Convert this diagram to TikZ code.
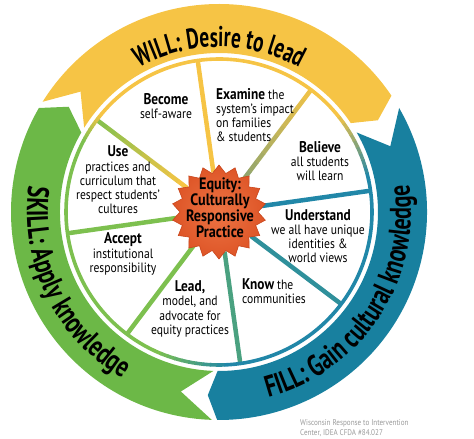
\documentclass[tikz,border=0pt]{standalone}
\usepackage{fontspec}
\setmainfont{PT Sans}[FakeStretch=0.86]
\newfontfamily\arcfont{PT Sans}[FakeStretch=0.68]
\newfontfamily\sidefont{PT Sans}[FakeStretch=0.73]
\usetikzlibrary{decorations.text}

\definecolor{willyellow}{HTML}{F6C445}
\definecolor{fillblue}{HTML}{18809F}
\definecolor{skillgreen}{HTML}{6CB847}
\definecolor{rimgreen}{HTML}{7DC04F}
\definecolor{rimblue}{HTML}{2187A8}
\definecolor{starorange}{HTML}{DE5527}
\definecolor{starlight}{HTML}{EC7444}
\definecolor{staredge}{HTML}{C9461C}
\definecolor{creditgray}{HTML}{9A9A9A}

\tikzset{
  spoke/.style={line width=4.5pt},
  rim/.style={line width=3.6pt},
  wedgetext/.style={align=center, inner sep=0pt, font=\fontsize{13.5}{14.2}\selectfont},
  startext/.style={align=center, inner sep=0pt, font=\bfseries\fontsize{16.5}{15}\selectfont},
}

\newcommand\kw[1]{{\bfseries\fontsize{15.5}{14.2}\selectfont #1}}
\newcommand\gradspoke[3]{%
  \foreach \k in {0,...,9}{%
    \pgfmathtruncatemacro\p{100-10*\k}%
    \draw[spoke, draw=#2!\p!#3] ({#1}:{40+11.2*\k}) -- ({#1}:{40+11.2*(\k+1)+0.4});
  }}
\newcommand\gradrim[4]{%
  \foreach \k in {0,...,9}{%
    \pgfmathsetmacro\a{#1+(#2-#1)*\k/10}%
    \pgfmathsetmacro\b{#1+(#2-#1)*(\k+1)/10+0.3}%
    \pgfmathtruncatemacro\p{100-10*\k}%
    \draw[rim, draw=#3!\p!#4] (\a:153) arc[start angle=\a, end angle=\b, radius=153];
  }}

\begin{document}
\begin{tikzpicture}[x=1pt, y=1pt]

	\useasboundingbox (-219,-227) rectangle (255,212);

	\fill[willyellow] (148:208) arc[start angle=148, end angle=34, radius=208] -- (30:183.5)
		-- (34:159) arc[start angle=34, end angle=148, radius=159] -- (139:183.5) -- cycle;
	\fill[fillblue] (30:208) arc[start angle=30, end angle=-90.5, radius=208] -- (-93.5:183.5)
		-- (-90.5:159) arc[start angle=-90.5, end angle=30, radius=159] -- (21:183.5) -- cycle;
	\fill[skillgreen] (-92:208) arc[start angle=-92, end angle=-210, radius=208] -- (-215:183.5)
		-- (-210:159) arc[start angle=-210, end angle=-92, radius=159] -- (-102:183.5) -- cycle;

	\path[decorate, decoration={text along path, text align=center,
		text={|\arcfont\bfseries\fontsize{28.5}{30}\selectfont|WILL: Desire to lead}}]
		(160:165) arc[start angle=160, end angle=20, radius=165];
	\path[decorate, decoration={text along path, text align=center,
		text={|\sidefont\bfseries\fontsize{30}{32}\selectfont|SKILL: Apply knowledge}}]
		(136:192) arc[start angle=136, end angle=276, radius=192];
	\path[decorate, decoration={text along path, text align=center,
		text={|\sidefont\bfseries\fontsize{30}{32}\selectfont|FILL: Gain cultural knowledge}}]
		(256.5:192) arc[start angle=256.5, end angle=396.5, radius=192];

	\draw[spoke, willyellow] (98:40) -- (98:152);
	\gradspoke{53}{fillblue!45!willyellow}{willyellow}
	\gradspoke{143}{willyellow}{rimgreen}
	\draw[spoke, rimgreen] (188:40) -- (188:152);
	\draw[spoke, rimgreen] (233:40) -- (233:152);
	\draw[spoke, rimgreen!45!rimblue] (278:40) -- (278:152);
	\draw[spoke, rimblue!85!rimgreen] (323:40) -- (323:152);
	\draw[spoke, rimblue] (8:40) -- (8:152);

	\draw[rim, willyellow] (38:153) arc[start angle=38, end angle=140.3, radius=153];
	\gradrim{140}{152}{willyellow}{rimgreen}
	\draw[rim, rimgreen] (152:153) arc[start angle=152, end angle=245.3, radius=153];
	\gradrim{245}{272}{rimgreen}{rimblue}
	\draw[rim, rimblue] (272:153) arc[start angle=272, end angle=372.3, radius=153];
	\gradrim{12}{38}{rimblue}{willyellow}

	\shade[inner color=starlight, outer color=starorange] (90:47)
		\foreach \i in {1,...,35}{ -- ({90+10*\i}:{ifthenelse(isodd(\i),39,47)}) } -- cycle;
	\draw[staredge, line width=0.6pt] (90:47)
		\foreach \i in {1,...,35}{ -- ({90+10*\i}:{ifthenelse(isodd(\i),39,47)}) } -- cycle;
	\node[startext] (equity) at (1,4) {Equity:\\Culturally\\Responsive\\Practice};

	\node[wedgetext] (become) at (-53,106) {\kw{Become}\\self-aware};
	\node[wedgetext, align=left, anchor=west] (examine) at (-3,97) {\kw{Examine} the\\system’s impact\\on families\\\& students};
	\node[wedgetext] (believe) at (101,51) {\kw{Believe}\\all students\\will learn};
	\node[wedgetext] (understand) at (99,-24) {\kw{Understand}\\we all have unique\\identities \&\\world views};
	\node[wedgetext, align=left, anchor=west] (know) at (23,-79.5) {\kw{Know} the\\communities};
	\node[wedgetext] (lead) at (-29,-97) {\kw{Lead,}\\model, and\\advocate for\\equity practices};
	\node[wedgetext] (accept) at (-96,-42) {\kw{Accept}\\institutional\\responsibility};
	\node[wedgetext] (use) at (-101,32) {\kw{Use}\\practices and\\curriculum that\\respect students’\\cultures};

	\node[anchor=north west, align=left, inner sep=0pt, text=creditgray, font=\fontsize{8.3}{10}\selectfont] (credit) at (81,-207) {Wisconsin Response to Intervention\\Center, IDEA CFDA \#84.027};

\end{tikzpicture}
\end{document}
